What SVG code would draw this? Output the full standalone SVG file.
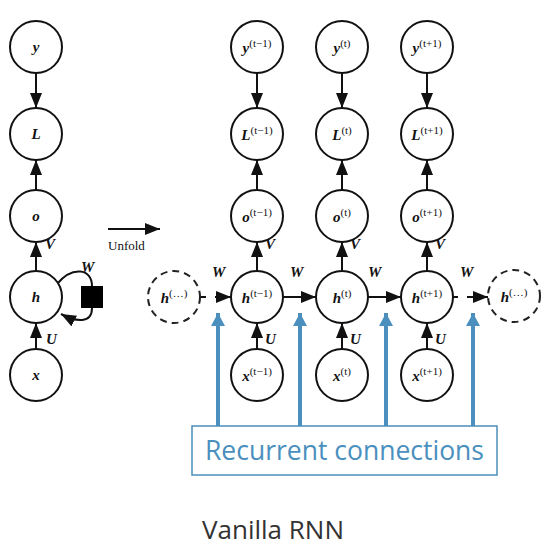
<svg xmlns="http://www.w3.org/2000/svg" width="549" height="547" viewBox="0 0 549 547">
<style>
.n{fill:#fff;stroke:#111;stroke-width:2}
.d{fill:#fff;stroke:#222;stroke-width:2;stroke-dasharray:7,5}
.e{stroke:#111;stroke-width:2;fill:none}
.t{font-family:"Liberation Serif",serif;font-size:15px;fill:#111;text-anchor:middle}
.m{font-weight:bold;font-style:italic}
.s{font-size:11px}
.w{font-family:"Liberation Serif",serif;font-size:15px;font-weight:bold;font-style:italic;fill:#111}
.b{stroke:#4a8fbd;stroke-width:4;fill:none}
</style>
<defs>
<marker id="a" markerUnits="userSpaceOnUse" markerWidth="16" markerHeight="12" refX="15" refY="6" orient="auto"><path d="M0,0 L15,6 L0,12 z" fill="#111"/></marker>
<marker id="ab" markerUnits="userSpaceOnUse" markerWidth="14" markerHeight="14" refX="13" refY="7" orient="auto"><path d="M0,0 L13,7 L0,14 z" fill="#4a8fbd"/></marker>
</defs>
<g id="connectors">
<line class="e" x1="36" y1="73" x2="36" y2="108" marker-end="url(#a)"/>
<line class="e" x1="36" y1="190" x2="36" y2="160" marker-end="url(#a)"/>
<line class="e" x1="36" y1="272" x2="36" y2="242" marker-end="url(#a)"/>
<line class="e" x1="36" y1="349" x2="36" y2="323" marker-end="url(#a)"/>
<path class="e" d="M57,284 C72,266 92,268 92,286"/>
<path class="e" d="M92,308 C92,324 76,322 61,314" marker-end="url(#a)"/>
<line class="e" x1="108" y1="229" x2="160" y2="229" marker-end="url(#a)"/>
<g>
<line class="e" x1="257" y1="73" x2="257" y2="108" marker-end="url(#a)"/>
<line class="e" x1="342" y1="73" x2="342" y2="108" marker-end="url(#a)"/>
<line class="e" x1="427" y1="73" x2="427" y2="108" marker-end="url(#a)"/>
<line class="e" x1="257" y1="190" x2="257" y2="160" marker-end="url(#a)"/>
<line class="e" x1="342" y1="190" x2="342" y2="160" marker-end="url(#a)"/>
<line class="e" x1="427" y1="190" x2="427" y2="160" marker-end="url(#a)"/>
<line class="e" x1="257" y1="272" x2="257" y2="242" marker-end="url(#a)"/>
<line class="e" x1="342" y1="272" x2="342" y2="242" marker-end="url(#a)"/>
<line class="e" x1="427" y1="272" x2="427" y2="242" marker-end="url(#a)"/>
<line class="e" x1="257" y1="349" x2="257" y2="323" marker-end="url(#a)"/>
<line class="e" x1="342" y1="349" x2="342" y2="323" marker-end="url(#a)"/>
<line class="e" x1="427" y1="349" x2="427" y2="323" marker-end="url(#a)"/>
<line class="e" x1="200" y1="297" x2="206" y2="297"/>
<line class="e" x1="215" y1="297" x2="231" y2="297" marker-end="url(#a)"/>
<line class="e" x1="283" y1="297" x2="316" y2="297" marker-end="url(#a)"/>
<line class="e" x1="368" y1="297" x2="401" y2="297" marker-end="url(#a)"/>
<line class="e" x1="453" y1="297" x2="458" y2="297"/>
<line class="e" x1="467" y1="297" x2="488" y2="297" marker-end="url(#a)"/>
</g>
<g>
<line class="b" x1="218" y1="427" x2="218" y2="313" marker-end="url(#ab)"/>
<line class="b" x1="300" y1="427" x2="300" y2="313" marker-end="url(#ab)"/>
<line class="b" x1="386" y1="427" x2="386" y2="313" marker-end="url(#ab)"/>
<line class="b" x1="473" y1="427" x2="473" y2="313" marker-end="url(#ab)"/>
</g>
</g>
<g id="labels">
<text class="w" x="45" y="249">V</text>
<text class="w" x="46" y="344">U</text>
<text class="w" x="81" y="272">W</text>
<text x="108" y="250" style="font-family:'Liberation Serif',serif;font-size:13px;fill:#111">Unfold</text>
<text class="w" x="265" y="249">V</text>
<text class="w" x="350" y="249">V</text>
<text class="w" x="435" y="249">V</text>
<text class="w" x="265" y="344">U</text>
<text class="w" x="350" y="344">U</text>
<text class="w" x="435" y="344">U</text>
<text class="w" x="212" y="277">W</text>
<text class="w" x="290" y="277">W</text>
<text class="w" x="368" y="277">W</text>
<text class="w" x="460" y="277">W</text>
</g>
<g id="n-y"><circle class="n" cx="36" cy="47" r="26"/><text class="t" x="36" y="52"><tspan class="m">y</tspan></text></g>
<g id="n-L"><circle class="n" cx="36" cy="134" r="26"/><text class="t" x="36" y="139"><tspan class="m">L</tspan></text></g>
<g id="n-o"><circle class="n" cx="36" cy="216" r="26"/><text class="t" x="36" y="221"><tspan class="m">o</tspan></text></g>
<g id="n-h"><circle class="n" cx="36" cy="297" r="26"/><text class="t" x="36" y="302"><tspan class="m">h</tspan></text></g>
<g id="n-x"><circle class="n" cx="36" cy="375" r="26"/><text class="t" x="36" y="380"><tspan class="m">x</tspan></text></g>
<g id="n-sq"><rect x="81" y="286" width="22" height="22" fill="#000"/></g>
<g id="n-y1"><circle class="n" cx="257" cy="47" r="26"/><text class="t" x="257" y="53"><tspan class="m">y</tspan><tspan class="s" dy="-6">(t−1)</tspan></text></g>
<g id="n-y2"><circle class="n" cx="342" cy="47" r="26"/><text class="t" x="342" y="53"><tspan class="m">y</tspan><tspan class="s" dy="-6">(t)</tspan></text></g>
<g id="n-y3"><circle class="n" cx="427" cy="47" r="26"/><text class="t" x="427" y="53"><tspan class="m">y</tspan><tspan class="s" dy="-6">(t+1)</tspan></text></g>
<g id="n-L1"><circle class="n" cx="257" cy="134" r="26"/><text class="t" x="257" y="140"><tspan class="m">L</tspan><tspan class="s" dy="-6">(t−1)</tspan></text></g>
<g id="n-L2"><circle class="n" cx="342" cy="134" r="26"/><text class="t" x="342" y="140"><tspan class="m">L</tspan><tspan class="s" dy="-6">(t)</tspan></text></g>
<g id="n-L3"><circle class="n" cx="427" cy="134" r="26"/><text class="t" x="427" y="140"><tspan class="m">L</tspan><tspan class="s" dy="-6">(t+1)</tspan></text></g>
<g id="n-o1"><circle class="n" cx="257" cy="216" r="26"/><text class="t" x="257" y="222"><tspan class="m">o</tspan><tspan class="s" dy="-6">(t−1)</tspan></text></g>
<g id="n-o2"><circle class="n" cx="342" cy="216" r="26"/><text class="t" x="342" y="222"><tspan class="m">o</tspan><tspan class="s" dy="-6">(t)</tspan></text></g>
<g id="n-o3"><circle class="n" cx="427" cy="216" r="26"/><text class="t" x="427" y="222"><tspan class="m">o</tspan><tspan class="s" dy="-6">(t+1)</tspan></text></g>
<g id="n-h0"><circle class="d" cx="174" cy="297" r="26"/><text class="t" x="174" y="303"><tspan class="m">h</tspan><tspan class="s" dy="-6">(…)</tspan></text></g>
<g id="n-h1"><circle class="n" cx="257" cy="297" r="26"/><text class="t" x="257" y="303"><tspan class="m">h</tspan><tspan class="s" dy="-6">(t−1)</tspan></text></g>
<g id="n-h2"><circle class="n" cx="342" cy="297" r="26"/><text class="t" x="342" y="303"><tspan class="m">h</tspan><tspan class="s" dy="-6">(t)</tspan></text></g>
<g id="n-h3"><circle class="n" cx="427" cy="297" r="26"/><text class="t" x="427" y="303"><tspan class="m">h</tspan><tspan class="s" dy="-6">(t+1)</tspan></text></g>
<g id="n-h4"><circle class="d" cx="514" cy="296" r="26"/><text class="t" x="514" y="302"><tspan class="m">h</tspan><tspan class="s" dy="-6">(…)</tspan></text></g>
<g id="n-x1"><circle class="n" cx="257" cy="375" r="26"/><text class="t" x="257" y="381"><tspan class="m">x</tspan><tspan class="s" dy="-6">(t−1)</tspan></text></g>
<g id="n-x2"><circle class="n" cx="342" cy="375" r="26"/><text class="t" x="342" y="381"><tspan class="m">x</tspan><tspan class="s" dy="-6">(t)</tspan></text></g>
<g id="n-x3"><circle class="n" cx="427" cy="375" r="26"/><text class="t" x="427" y="381"><tspan class="m">x</tspan><tspan class="s" dy="-6">(t+1)</tspan></text></g>
<g id="n-rc"><rect x="192" y="426" width="305" height="49" fill="#fff" stroke="#4a8fbd" stroke-width="1.5"/><text x="344.5" y="460" text-anchor="middle" style="font-family:'Open Sans',sans-serif;font-size:26.5px;fill:#4a8fbd">Recurrent connections</text></g>
<g id="title"><text x="273" y="539" text-anchor="middle" style="font-family:'Open Sans',sans-serif;font-size:26px;fill:#333">Vanilla RNN</text></g>
</svg>
